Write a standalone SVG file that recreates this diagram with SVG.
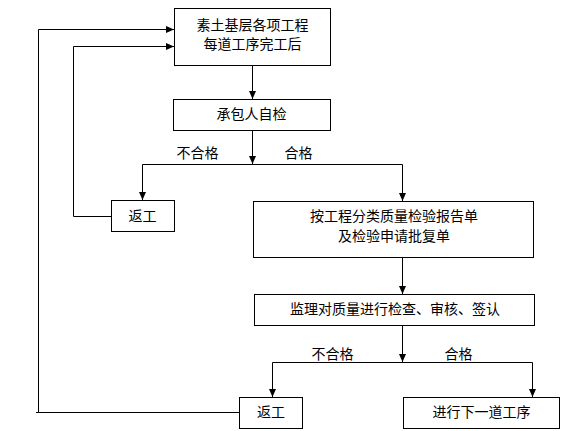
<svg xmlns="http://www.w3.org/2000/svg" width="578" height="431" viewBox="0 0 578 431">
<style>
.box{fill:#fff;stroke:#000;stroke-width:1}
.t{font-family:"Noto Sans CJK SC","Liberation Sans",sans-serif;font-size:14px;fill:#000;text-anchor:middle}
.c{fill:none;stroke:#000;stroke-width:1}
</style>
<defs>
<marker id="ah" markerUnits="userSpaceOnUse" markerWidth="8" markerHeight="8" refX="8" refY="3.5" orient="auto">
<path d="M0,0 L8,3.5 L0,7 z" fill="#000"/>
</marker>
</defs>
<rect width="578" height="431" fill="#fff"/>
<g id="connectors">
<path class="c" d="M252.5,65 V99" marker-end="url(#ah)"/>
<path class="c" d="M252.5,130 V164" marker-end="url(#ah)"/>
<path class="c" d="M142.5,164.5 H402.5"/>
<path class="c" d="M142.5,164.5 V200" marker-end="url(#ah)"/>
<path class="c" d="M402.5,164.5 V201" marker-end="url(#ah)"/>
<path class="c" d="M111,216.5 H73.5 V46.5 H174" marker-end="url(#ah)"/>
<path class="c" d="M402.5,257 V294" marker-end="url(#ah)"/>
<path class="c" d="M402.5,325 V362" marker-end="url(#ah)"/>
<path class="c" d="M272.5,362.5 H532.5"/>
<path class="c" d="M272.5,362.5 V397" marker-end="url(#ah)"/>
<path class="c" d="M532.5,362.5 V397" marker-end="url(#ah)"/>
<path class="c" d="M239,412.5 H36"/>
<path class="c" d="M38.5,412.5 V29.5 H174" stroke="#444" marker-end="url(#ah)"/>
<text class="t" x="197.5" y="158">不合格</text>
<text class="t" x="298.5" y="158">合格</text>
<text class="t" x="332.5" y="359">不合格</text>
<text class="t" x="458.5" y="359">合格</text>
</g>
<g id="n1">
<rect class="box" x="174.5" y="8.5" width="156" height="57"/>
<text class="t" x="252.5" y="30">素土基层各项工程</text>
<text class="t" x="252.5" y="49">每道工序完工后</text>
</g>
<g id="n2">
<rect class="box" x="173.5" y="99.5" width="157" height="31"/>
<text class="t" x="251.5" y="119">承包人自检</text>
</g>
<g id="n3">
<rect class="box" x="111.5" y="200.5" width="63" height="31"/>
<text class="t" x="142.5" y="221">返工</text>
</g>
<g id="n4">
<rect class="box" x="253.5" y="201.5" width="280" height="56"/>
<text class="t" x="394" y="221">按工程分类质量检验报告单</text>
<text class="t" x="394" y="241">及检验申请批复单</text>
</g>
<g id="n5">
<rect class="box" x="254.5" y="294.5" width="280" height="31"/>
<text class="t" x="395" y="314">监理对质量进行检查、审核、签认</text>
</g>
<g id="n6">
<rect class="box" x="239.5" y="397.5" width="63" height="31"/>
<text class="t" x="271" y="417">返工</text>
</g>
<g id="n7">
<rect class="box" x="403.5" y="397.5" width="156" height="31"/>
<text class="t" x="481.5" y="417">进行下一道工序</text>
</g>
</svg>
